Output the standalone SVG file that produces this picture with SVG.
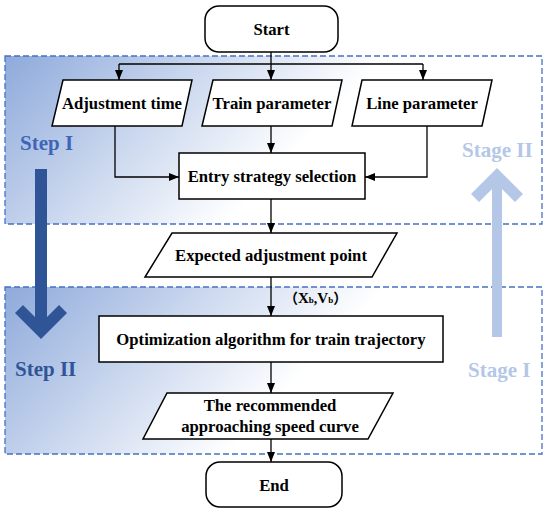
<svg xmlns="http://www.w3.org/2000/svg" width="550" height="515" viewBox="0 0 550 515">
<defs>
<linearGradient id="g1" gradientUnits="userSpaceOnUse" x1="5" y1="56" x2="260" y2="300">
<stop offset="0" stop-color="#8eaadb"/><stop offset="0.78" stop-color="#ffffff"/>
</linearGradient>
<linearGradient id="g2" gradientUnits="userSpaceOnUse" x1="5" y1="287" x2="260" y2="531">
<stop offset="0" stop-color="#8eaadb"/><stop offset="0.78" stop-color="#ffffff"/>
</linearGradient>
<marker id="ah" viewBox="0 0 10 8" refX="10" refY="4" markerWidth="10" markerHeight="8" markerUnits="userSpaceOnUse" orient="auto">
<path d="M0,0 L10,4 L0,8 Z" fill="#000"/>
</marker>
</defs>
<style>
.zone{stroke:#4472c4;stroke-width:1.3;stroke-dasharray:6,3}
.node{fill:#fff;stroke:#000;stroke-width:1.5}
.t{font-family:"Liberation Serif","Times New Roman",serif;font-weight:bold;font-size:16.7px;fill:#000;text-anchor:middle}
.lab{font-family:"Liberation Serif","Times New Roman",serif;font-weight:bold;font-size:21px}
.c{fill:none;stroke:#000;stroke-width:1.3}
.cjk{font-family:"Noto Sans CJK SC",sans-serif;font-weight:bold}
</style>
<rect width="550" height="515" fill="#fff"/>
<g id="stage-zones">
<rect class="zone" x="5" y="56" width="537" height="168" fill="url(#g1)"/>
<rect class="zone" x="5" y="287" width="537" height="167" fill="url(#g2)"/>
</g>
<g id="labels">
<text class="lab" x="20" y="150" fill="#3f66b6">Step I</text>
<text class="lab" x="15" y="376" fill="#2f5597">Step II</text>
<text class="lab" x="462" y="157" fill="#b4c7e7">Stage II</text>
<text class="lab" x="468" y="377" fill="#b4c7e7">Stage I</text>
<polygon fill="#2f5597" points="35,169 47,169 47,317 59,305 67,313 41,339 15,313 23,305 35,317"/>
<polygon fill="#b4c7e7" points="497,168 523,194 515,202 502,189 502,337 492,337 492,189 479,202 471,194"/>
</g>
<g id="connectors">
<path class="c" d="M271,52 V80" marker-end="url(#ah)"/>
<path class="c" d="M119,64 H423"/>
<path class="c" d="M119,64 V80" marker-end="url(#ah)"/>
<path class="c" d="M423,64 V80" marker-end="url(#ah)"/>
<path class="c" d="M115,126 V177 H179" marker-end="url(#ah)"/>
<path class="c" d="M271,126 V153" marker-end="url(#ah)"/>
<path class="c" d="M427,126 V177 H365" marker-end="url(#ah)"/>
<path class="c" d="M271,199 V233" marker-end="url(#ah)"/>
<path class="c" d="M271,277 V316" marker-end="url(#ah)"/>
<path class="c" d="M271,362 V393" marker-end="url(#ah)"/>
<path class="c" d="M271,439 V462" marker-end="url(#ah)"/>
<text x="284" y="303" font-family="'Liberation Serif',serif" font-weight="bold" font-size="14"><tspan class="cjk">（</tspan><tspan font-size="15">X</tspan><tspan font-size="9">b</tspan>,<tspan font-size="15">V</tspan><tspan font-size="9">b</tspan><tspan class="cjk">）</tspan></text>
</g>
<g id="start">
<rect class="node" x="205" y="6" width="133" height="46" rx="14"/>
<text class="t" x="271.5" y="35">Start</text>
</g>
<g id="adjustment-time">
<polygon class="node" points="63,80 192,80 182,126 52,126"/>
<text class="t" x="122" y="109">Adjustment time</text>
</g>
<g id="train-parameter">
<polygon class="node" points="213,80 342,80 332,126 202,126"/>
<text class="t" x="272" y="109">Train parameter</text>
</g>
<g id="line-parameter">
<polygon class="node" points="362,80 492,80 482,126 352,126"/>
<text class="t" x="422" y="109">Line parameter</text>
</g>
<g id="entry-strategy">
<rect class="node" x="179" y="153" width="186" height="46"/>
<text class="t" x="272" y="182">Entry strategy selection</text>
</g>
<g id="expected-point">
<polygon class="node" points="172,233 397,233 372,277 145,277"/>
<text class="t" x="271" y="261">Expected adjustment point</text>
</g>
<g id="optimization">
<rect class="node" x="99" y="316" width="344" height="46"/>
<text class="t" x="271" y="345">Optimization algorithm for train trajectory</text>
</g>
<g id="recommended-curve">
<polygon class="node" points="167,393 393,393 368,439 143,439"/>
<text class="t" x="270" y="411">The recommended</text>
<text class="t" x="270" y="432">approaching speed curve</text>
</g>
<g id="end">
<rect class="node" x="206" y="462" width="136" height="45" rx="14"/>
<text class="t" x="274" y="491">End</text>
</g>
</svg>
